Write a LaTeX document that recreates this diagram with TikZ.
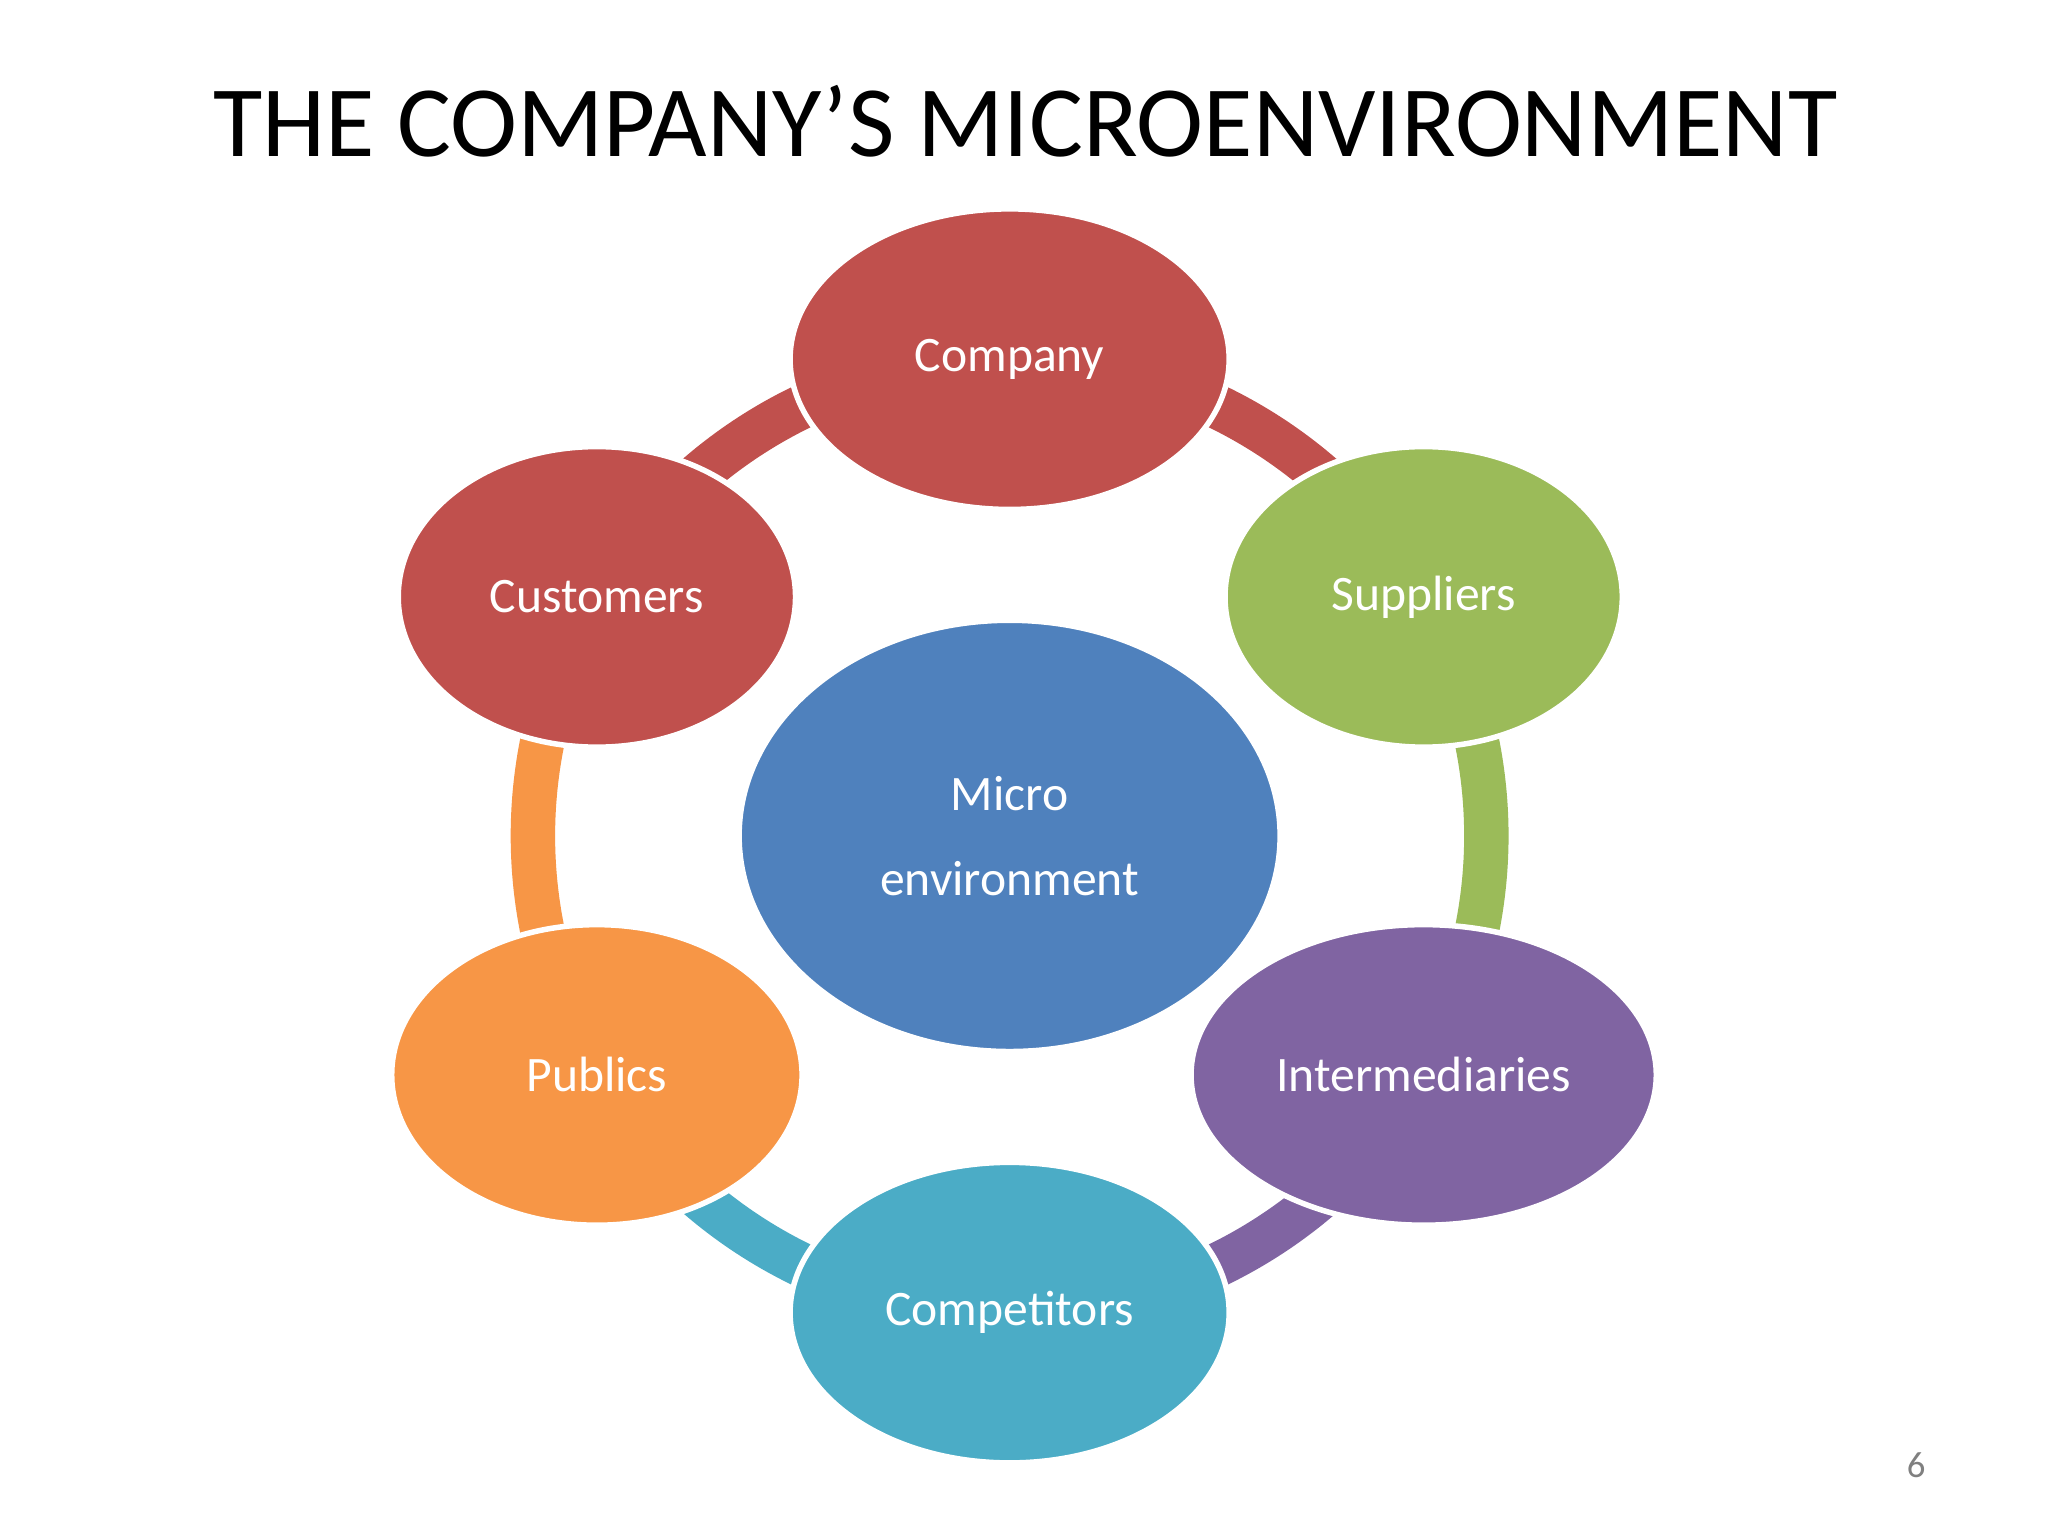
\documentclass[tikz,border=0pt]{standalone}
\usetikzlibrary{calc,shapes.geometric}
\usepackage{fontspec}
\setmainfont{Carlito}
\definecolor{cred}{HTML}{C0504D}
\definecolor{cgreen}{HTML}{9BBB59}
\definecolor{cpurple}{HTML}{8064A2}
\definecolor{cteal}{HTML}{4BACC6}
\definecolor{corange}{HTML}{F79646}
\definecolor{cblue}{HTML}{4F81BD}
\begin{document}
\begin{tikzpicture}[x=0.01cm,y=0.01cm,
  blob/.style={ellipse, draw=white, line width=1.2pt, inner sep=0pt, font=\fontsize{10.8}{13}\selectfont, text=white, align=center},
  link/.style={line width=0.34cm}]
\useasboundingbox (0,0) rectangle (1568,1176);
\fill[white] (0,0) rectangle (1568,1176);
\coordinate (O) at (773,536);
\node[font=\fontsize{22}{26}\selectfont] (title) at (785,1083) {THE COMPANY’S MICROENVIRONMENT};
\node[font=\fontsize{8}{10}\selectfont, text=gray] (pg) at (1467,54) {6};
% links
\draw[link,cred]    ($(O)+(90:365)$) arc[start angle=90,end angle=30,radius=365];
\draw[link,cgreen]  ($(O)+(30:365)$) arc[start angle=30,end angle=-30,radius=365];
\draw[link,cpurple] ($(O)+(-30:365)$) arc[start angle=-30,end angle=-90,radius=365];
\draw[link,cteal]   ($(O)+(-90:365)$) arc[start angle=-90,end angle=-150,radius=365];
\draw[link,corange] ($(O)+(210:365)$) arc[start angle=210,end angle=150,radius=365];
\draw[link,cred]    ($(O)+(150:365)$) arc[start angle=150,end angle=90,radius=365];
% nodes
\node[blob, fill=cblue, minimum width=4.14cm, minimum height=3.3cm] (mid) at (O) {Micro\\[0.5em]environment};
\node[blob, fill=cred, minimum width=3.36cm, minimum height=2.3cm] (company) at (773,901) {Company};
\node[blob, fill=cred, minimum width=3.04cm, minimum height=2.3cm] (customers) at (457,719) {Customers};
\node[blob, fill=cgreen, minimum width=3.04cm, minimum height=2.3cm] (suppliers) at (1090,719) {Suppliers};
\node[blob, fill=corange, minimum width=3.14cm, minimum height=2.3cm] (publics) at (457,353) {Publics};
\node[blob, fill=cpurple, minimum width=3.56cm, minimum height=2.3cm] (inter) at (1090,353) {Intermediaries};
\node[blob, fill=cteal, minimum width=3.36cm, minimum height=2.3cm] (comp) at (773,171) {Competitors};
\end{tikzpicture}
\end{document}
